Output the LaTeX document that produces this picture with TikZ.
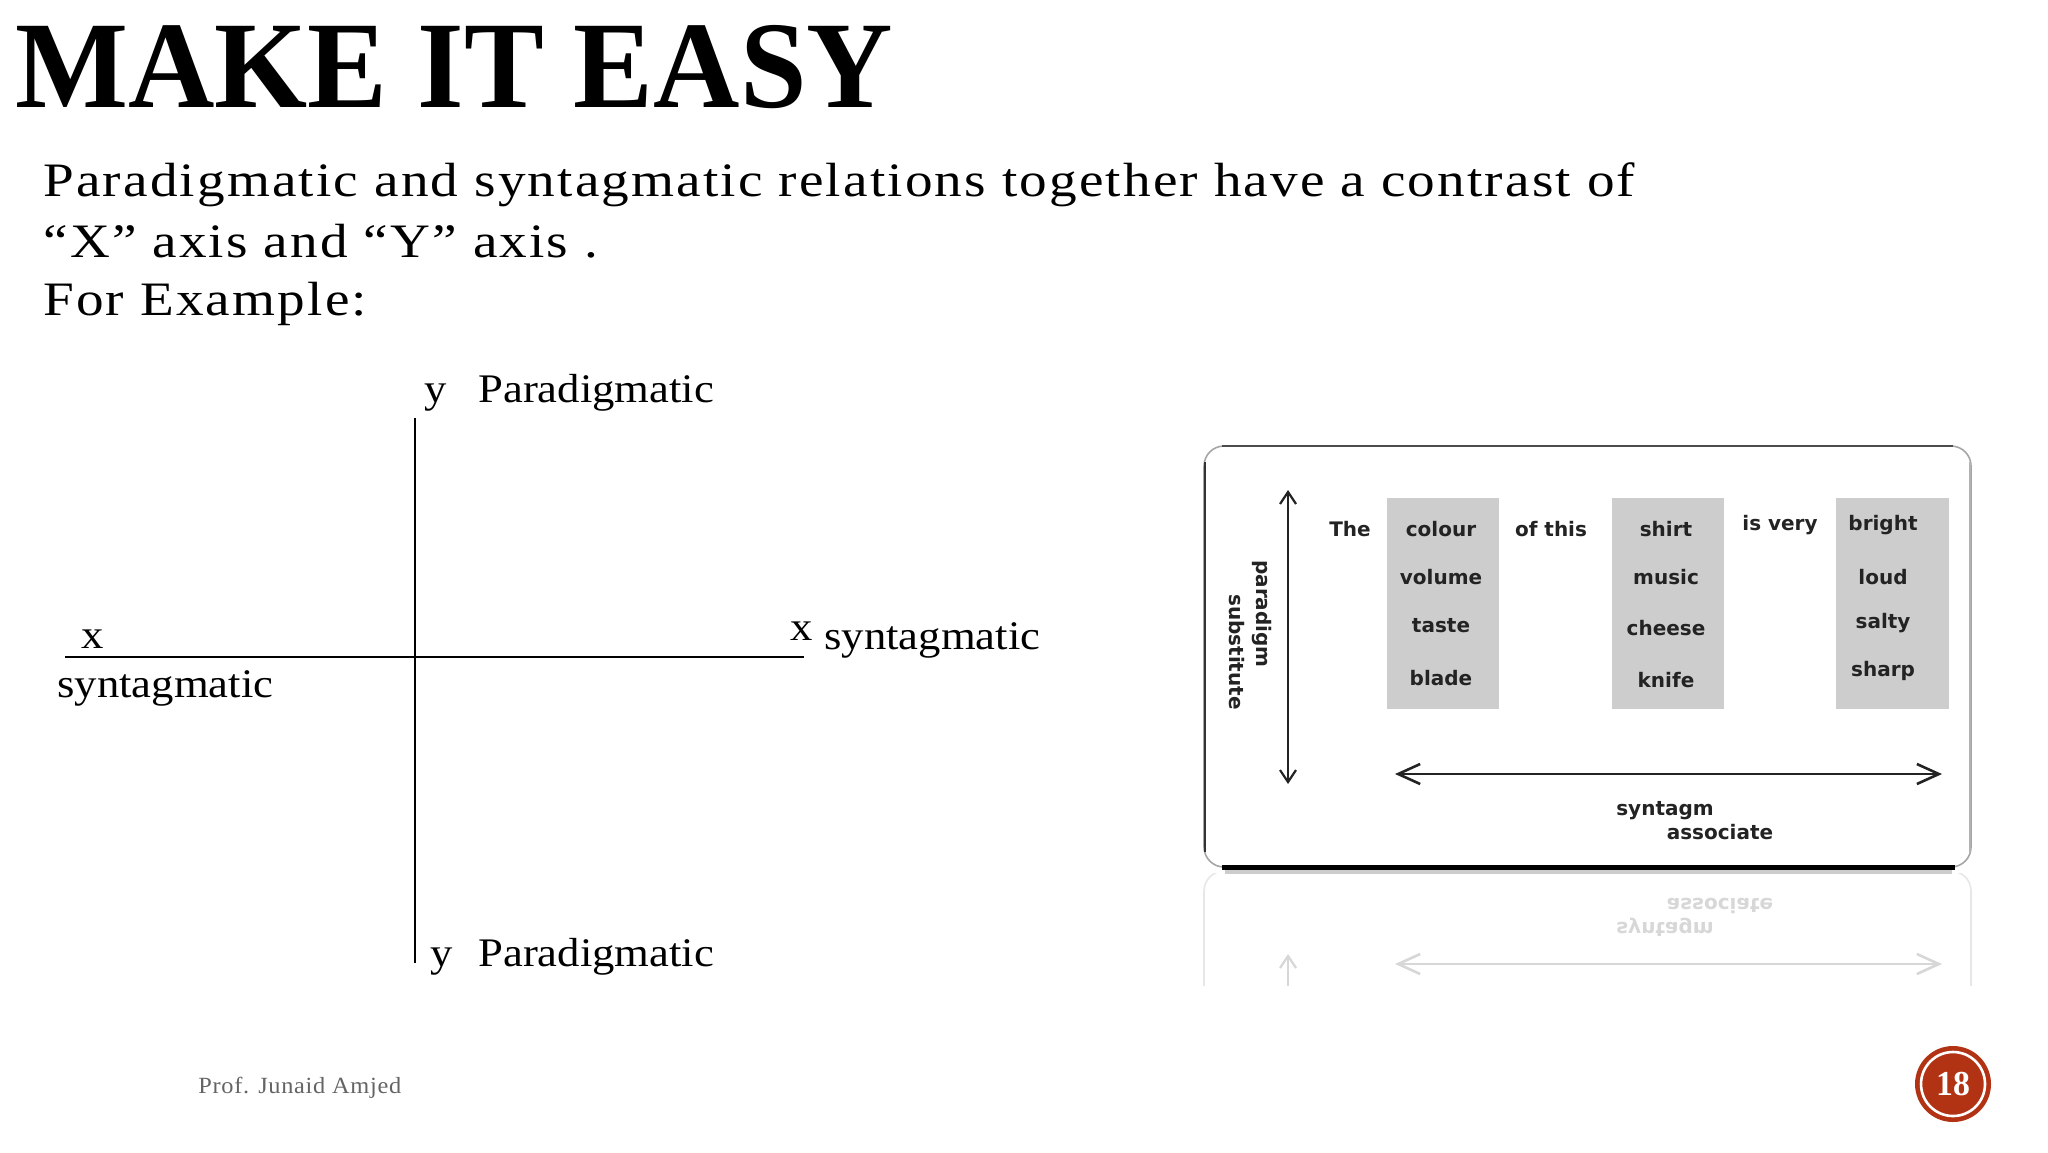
\documentclass[tikz,border=0pt]{standalone}
\usepackage{fontspec}
\usetikzlibrary{arrows.meta}
\setmainfont{Liberation Serif}
\newfontfamily\bodyfont[FakeStretch=1.15,LetterSpace=4.5]{Liberation Serif}
\newfontfamily\axfont[FakeStretch=1.1]{Liberation Serif}
\newfontfamily\footfont[FakeStretch=1.05,LetterSpace=3]{Liberation Serif}
\newfontfamily\titlefont[FakeStretch=0.965]{Liberation Serif}
\newfontfamily\picfont{DejaVu Sans}
\definecolor{ink}{RGB}{35,35,35}
\definecolor{boxgray}{RGB}{205,205,205}
\definecolor{footgray}{RGB}{100,100,100}
\definecolor{badge}{RGB}{178,50,20}
\definecolor{refl}{RGB}{215,215,215}
\newcommand{\pictcontent}[2]{%
  % #1 prefix, #2 colour
  \coordinate (#1va) at (1288,490);
  \coordinate (#1vb) at (1288,784);
  \coordinate (#1ha) at (1395,774);
  \coordinate (#1hb) at (1942,774);
  \draw[#2,line width=1.1pt,{Straight Barb[length=6pt,width=8pt]}-{Straight Barb[length=6pt,width=8pt]}] (#1va) -- (#1vb);
  \draw[#2,line width=1.3pt,{Straight Barb[length=11pt,width=10pt]}-{Straight Barb[length=11pt,width=10pt]}] (#1ha) -- (#1hb);
  \node[pic,text=#2,transform shape] (#1syn) at (1665,811) {syntagm};
  \node[pic,text=#2,transform shape] (#1ass) at (1720,832) {associate};
}
\tikzset{
  body/.style={font=\bodyfont\fontsize{24}{29}\selectfont,anchor=base west,inner sep=0pt},
  axlab/.style={font=\axfont\fontsize{20.3}{25}\selectfont,anchor=base west,inner sep=0pt},
  pic/.style={font=\picfont\bfseries\fontsize{10}{12}\selectfont,text=ink,inner sep=0pt},
  graybox/.style={fill=boxgray,draw=none},
}
\begin{document}
\begin{tikzpicture}[x=0.5pt,y=-0.5pt]
\useasboundingbox[fill=white] (0,0) rectangle (2048,1152);
% title
\node[font=\titlefont\bfseries\fontsize{62}{70}\selectfont,anchor=base west,inner sep=0pt] (title) at (15,107) {MAKE IT EASY};
% body
\node[body] (l1) at (43,196) {Paradigmatic and syntagmatic relations together have a contrast of};
\node[body] (l2) at (43,257) {“X” axis and “Y” axis .};
\node[body] (l3) at (43,315) {For Example:};
% axes
\coordinate (vt) at (415,418);
\coordinate (vb) at (415,963);
\coordinate (hl) at (65,657);
\coordinate (hr) at (804,657);
\draw[line width=0.6pt] (vt) -- (vb);
\draw[line width=0.6pt] (hl) -- (hr);
\node[axlab] (yt) at (424,402) {y};
\node[axlab] (pt) at (478,402) {Paradigmatic};
\node[axlab] (yb) at (430,966) {y};
\node[axlab] (pb) at (478,966) {Paradigmatic};
\node[axlab] (xl) at (81,648) {x};
\node[axlab] (sl) at (57,697) {syntagmatic};
\node[axlab] (xr) at (790,640) {x};
\node[axlab] (sr) at (824,649) {syntagmatic};
% picture frame
\draw[gray!70,line width=0.8pt,rounded corners=10pt,fill=white] (1204,446) rectangle (1971,867);
\draw[black!70,line width=0.9pt] (1222,446) -- (1953,446);
\draw[black!80,line width=1.4pt] (1205,462) -- (1205,852);
\draw[gray!60,line width=1pt] (1970,462) -- (1970,852);
\draw[gray!40,line width=2.5pt] (1225,871) -- (1952,871);
\draw[black,line width=2.5pt] (1222,867) -- (1955,867);
% gray boxes
\fill[graybox] (1387,498) rectangle (1499,709);
\fill[graybox] (1612,498) rectangle (1724,709);
\fill[graybox] (1836,498) rectangle (1949,709);
% words
\node[pic] (the) at (1350,529) {The};
\node[pic] (c1a) at (1441,529) {colour};
\node[pic] (c1b) at (1441,577) {volume};
\node[pic] (c1c) at (1441,626) {taste};
\node[pic] (c1d) at (1441,678) {blade};
\node[pic] (ofthis) at (1551,529) {of this};
\node[pic] (c2a) at (1666,529) {shirt};
\node[pic] (c2b) at (1666,577) {music};
\node[pic] (c2c) at (1666,628) {cheese};
\node[pic] (c2d) at (1666,680) {knife};
\node[pic] (isvery) at (1780,525) {is very};
\node[pic] (c3a) at (1883,525) {bright};
\node[pic] (c3b) at (1883,577) {loud};
\node[pic] (c3c) at (1883,623) {salty};
\node[pic] (c3d) at (1883,671) {sharp};
\node[pic,rotate=-90] (par) at (1262,614) {paradigm};
\node[pic,rotate=-90] (sub) at (1237,652) {substitute};
\pictcontent{m}{ink}
% reflection
\begin{scope}
\clip (1200,873) rectangle (1980,985);
\begin{scope}[yshift=-869pt,yscale=-1]
\draw[refl!60,line width=0.8pt,rounded corners=10pt] (1204,446) rectangle (1971,867);
\pictcontent{r}{refl}
\end{scope}
\end{scope}
% footer
\node[font=\footfont\fontsize{11.6}{14}\selectfont,text=footgray,anchor=base west,inner sep=0pt] (foot) at (198,1093) {Prof. Junaid Amjed};
% badge
\coordinate (bc) at (1953,1084);
\fill[badge] (bc) circle[radius=38];
\draw[white,line width=1.3pt] (bc) circle[radius=32];
\node[font=\titlefont\bfseries\fontsize{17.5}{19}\selectfont,text=white,inner sep=0pt] (num) at (bc) {18};
\end{tikzpicture}
\end{document}
